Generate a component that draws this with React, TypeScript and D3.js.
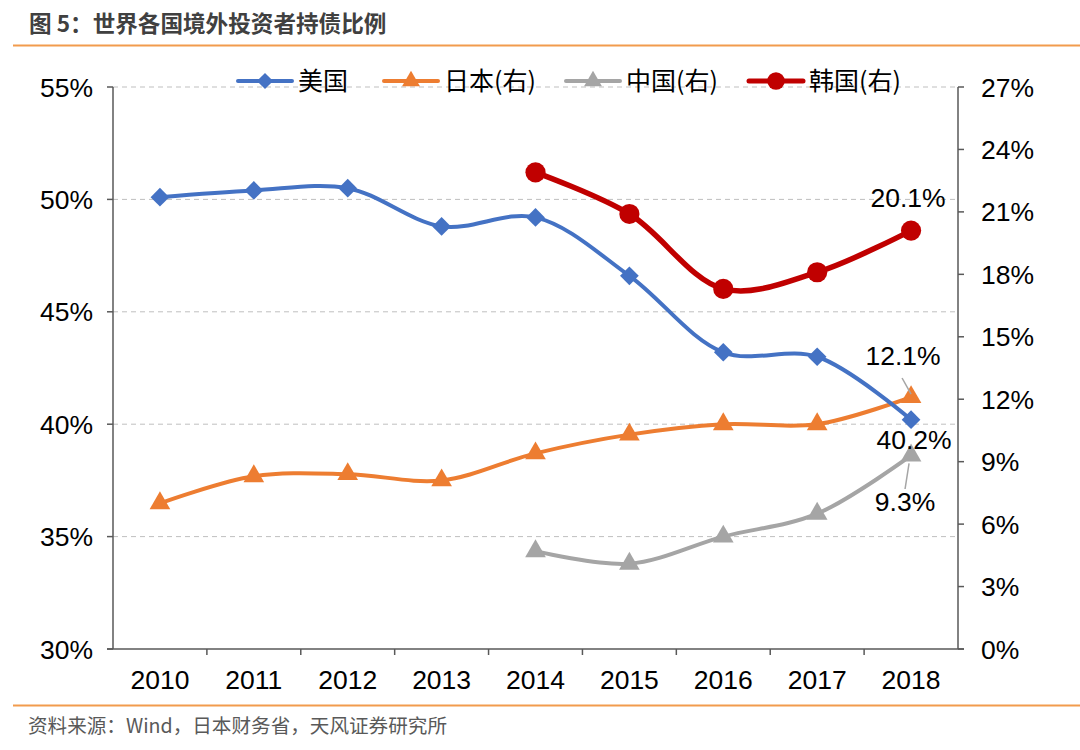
import React from "react";
import * as d3 from "d3";

// 各国境外投资者持债比例（美国为左轴，其余为右轴）
const years = ["2010", "2011", "2012", "2013", "2014", "2015", "2016", "2017", "2018"];
const usShare = [50.1, 50.4, 50.5, 48.8, 49.2, 46.6, 43.2, 43.0, 40.2];
const japanShare = [7.0, 8.3, 8.4, 8.1, 9.4, 10.3, 10.8, 10.8, 12.1];
const chinaShare: (number | null)[] = [null, null, null, null, 4.7, 4.1, 5.4, 6.5, 9.3];
const koreaShare: (number | null)[] = [null, null, null, null, 22.9, 20.9, 17.3, 18.1, 20.1];
const leftTicks = [30, 35, 40, 45, 50, 55];
const rightTicks = [0, 3, 6, 9, 12, 15, 18, 21, 24, 27];

const W = 1080;
const H = 750;
const left = 113;
const right = 958;
const top = 87;
const bottom = 649;

const NUM_FONT = "'Liberation Sans', Arial, sans-serif";
const CJK_FONT = "'Noto Sans CJK SC', sans-serif";
const AXIS_SIZE = 26.5;

const x = d3.scaleBand<string>().domain(years).range([left, right]);
const cx = (y: string) => (x(y) as number) + x.bandwidth() / 2;
const yL = d3.scaleLinear().domain([30, 55]).range([bottom, top]);
const yR = d3.scaleLinear().domain([0, 27]).range([bottom, top]);

const curve = d3.curveCatmullRom.alpha(0.5);

type Marker = "diamond" | "triangle" | "circle";

// 菱形用旋转 45° 的正方形
const markerPath = (kind: Marker, k = 1) => {
  if (kind === "diamond") return d3.symbol(d3.symbolSquare, 175 * k)();
  if (kind === "triangle") return d3.symbol(d3.symbolTriangle, 185 * k)();
  return d3.symbol(d3.symbolCircle, 320 * k)();
};
const markerRot = (kind: Marker) => (kind === "diamond" ? " rotate(45)" : "");

const Series = ({
  values,
  scale,
  color,
  width,
  marker,
}: {
  values: (number | null)[];
  scale: d3.ScaleLinear<number, number>;
  color: string;
  width: number;
  marker: Marker;
}) => {
  const pts = years
    .map((yr, i) => ({ yr, v: values[i] }))
    .filter((d) => d.v != null) as { yr: string; v: number }[];
  const line = d3
    .line<{ yr: string; v: number }>()
    .x((d) => cx(d.yr))
    .y((d) => scale(d.v))
    .curve(curve);
  const sym = markerPath(marker);
  return (
    <g>
      <path d={line(pts) || ""} fill="none" stroke={color} strokeWidth={width} strokeLinecap="round" />
      {pts.map((d) => (
        <path
          key={d.yr}
          d={sym || ""}
          fill={color}
          transform={`translate(${cx(d.yr)},${scale(d.v)})${markerRot(marker)}`}
        />
      ))}
    </g>
  );
};

const legendItems: { name: string; color: string; marker: Marker; x: number; w: number }[] = [
  { name: "美国", color: "#4472C4", marker: "diamond", x: 238, w: 4 },
  { name: "日本(右)", color: "#ED7D31", marker: "triangle", x: 384, w: 4 },
  { name: "中国(右)", color: "#A5A5A5", marker: "triangle", x: 566, w: 4 },
  { name: "韩国(右)", color: "#C00000", marker: "circle", x: 749, w: 5 },
];

export default function App() {
  const last = years[years.length - 1];
  const lx = cx(last);
  const label = (txt: string, xx: number, yy: number) => (
    <text x={xx} y={yy} textAnchor="middle" fontFamily={NUM_FONT} fontSize={AXIS_SIZE} fill="#000">
      {txt}
    </text>
  );
  return (
    <div style={{ position: "absolute", left: 0, top: 0 }}>
      <svg width={W} height={H} style={{ display: "block", background: "#fff" }}>
        {/* 标题与分隔线 */}
        <text x={29} y={32} fontFamily={CJK_FONT} fontWeight={700} fontSize={22.6} fill="#404040">
          图 5：世界各国境外投资者持债比例
        </text>
        <line x1={13} x2={W} y1={45.5} y2={45.5} stroke="#F29B4D" strokeWidth={2} />

        {/* 网格线 */}
        {leftTicks.slice(1).map((t) => (
          <line key={t} x1={left} x2={right} y1={yL(t)} y2={yL(t)} stroke="#BFBFBF" strokeDasharray="5,4" strokeWidth={1} />
        ))}

        {/* 左轴 */}
        <line x1={left} x2={left} y1={top} y2={bottom} stroke="#595959" strokeWidth={1.5} />
        {leftTicks.map((t) => (
          <g key={t}>
            <line x1={left - 6} x2={left} y1={yL(t)} y2={yL(t)} stroke="#595959" strokeWidth={1.5} />
            <text x={93} y={yL(t)} dy="0.36em" textAnchor="end" fontFamily={NUM_FONT} fontSize={AXIS_SIZE} fill="#000">
              {t}%
            </text>
          </g>
        ))}

        {/* 右轴 */}
        <line x1={right} x2={right} y1={top} y2={bottom} stroke="#595959" strokeWidth={1.5} />
        {rightTicks.map((t) => (
          <g key={t}>
            <line x1={right} x2={right + 6} y1={yR(t)} y2={yR(t)} stroke="#595959" strokeWidth={1.5} />
            <text x={981} y={yR(t)} dy="0.36em" textAnchor="start" fontFamily={NUM_FONT} fontSize={AXIS_SIZE} fill="#000">
              {t}%
            </text>
          </g>
        ))}

        {/* 横轴 */}
        <line x1={left - 6} x2={right + 6} y1={bottom} y2={bottom} stroke="#595959" strokeWidth={1.5} />
        {years.map((yr, i) => (
          <g key={yr}>
            {i > 0 && (
              <line x1={x(yr)} x2={x(yr)} y1={bottom} y2={bottom + 6} stroke="#595959" strokeWidth={1.5} />
            )}
            <text x={cx(yr)} y={689} textAnchor="middle" fontFamily={NUM_FONT} fontSize={AXIS_SIZE} fill="#000">
              {yr}
            </text>
          </g>
        ))}

        {/* 数据序列 */}
        <Series values={japanShare} scale={yR} color="#ED7D31" width={4} marker="triangle" />
        <Series values={chinaShare} scale={yR} color="#A5A5A5" width={4} marker="triangle" />
        <Series values={usShare} scale={yL} color="#4472C4" width={4} marker="diamond" />
        <Series values={koreaShare} scale={yR} color="#C00000" width={5.5} marker="circle" />

        {/* 数据标签 */}
        {label(`${koreaShare[8]}%`, lx - 3, 207)}
        <line x1={lx - 9} y1={378} x2={lx} y2={yR(japanShare[8]) - 3} stroke="#A5A5A5" strokeWidth={1.5} />
        {label(`${japanShare[8]}%`, lx - 8, 365)}
        {label(`${usShare[8]}%`, lx + 3, 449)}
        <line x1={lx - 6} y1={489} x2={lx - 2} y2={yR(chinaShare[8] as number) + 8} stroke="#A5A5A5" strokeWidth={1.5} />
        {label(`${chinaShare[8]}%`, lx - 6, 511)}

        {/* 图例 */}
        {legendItems.map((it) => (
          <g key={it.name}>
            <line x1={it.x} x2={it.x + 54} y1={81} y2={81} stroke={it.color} strokeWidth={it.w} strokeLinecap="round" />
            <path
              d={markerPath(it.marker, 0.75) || ""}
              fill={it.color}
              transform={`translate(${it.x + 27},81)${markerRot(it.marker)}`}
            />
            <text x={it.x + 60} y={81} dy="0.36em" fontFamily={CJK_FONT} fontSize={25} fill="#000">
              {it.name}
            </text>
          </g>
        ))}

        {/* 资料来源 */}
        <line x1={13} x2={W} y1={705.5} y2={705.5} stroke="#F29B4D" strokeWidth={2} />
        <text x={28} y={733} fontFamily={CJK_FONT} fontSize={19.6} fill="#595959">
          资料来源：Wind，日本财务省，天风证券研究所
        </text>
      </svg>
    </div>
  );
}
